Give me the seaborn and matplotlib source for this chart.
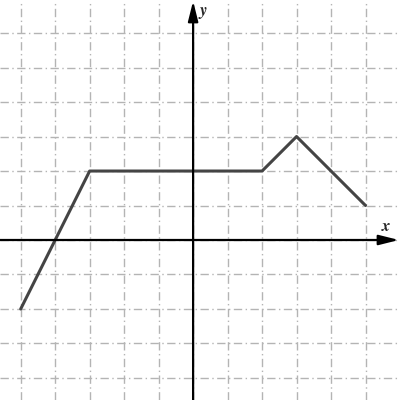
import pandas as pd
import seaborn as sns
import matplotlib.pyplot as plt

# piecewise line vertices
xs = [-5, -3, 2, 3, 5]
ys = [-2, 2, 2, 3, 1]
df = pd.DataFrame({'x': xs, 'y': ys})

sns.set_style('white')
plt.rcParams['mathtext.fontset'] = 'cm'

fig = plt.figure(figsize=(4, 4), dpi=100)
ax = fig.add_axes([0, 0, 1, 1])
ax.set_xlim(-5.6, 6.0)
ax.set_ylim(-4.64, 6.96)

# dash-dot grid on integer positions
ax.set_xticks(range(-5, 6))
ax.set_yticks(range(-4, 7))
ax.grid(True, linestyle=(0, (6, 2.5, 1, 2.5)), color='#b4b4b4', linewidth=1)
ax.tick_params(left=False, bottom=False, labelleft=False, labelbottom=False)
for s in ax.spines.values():
    s.set_visible(False)

# axes with arrows
arrow = dict(arrowstyle='-|>,head_length=0.6,head_width=0.15', color='black',
             lw=1.6, mutation_scale=20, shrinkA=0, shrinkB=0)
ax.annotate('', xy=(5.97, 0), xytext=(-5.6, 0), arrowprops=arrow)
ax.annotate('', xy=(0, 6.93), xytext=(0, -4.64), arrowprops=arrow)

sns.lineplot(data=df, x='x', y='y', sort=False, color='#444444', linewidth=2.2, ax=ax)
ax.set_xlabel('')
ax.set_ylabel('')

ax.text(0.3, 6.6, r'$\boldsymbol{y}$', fontsize=12, ha='center', va='center')
ax.text(5.6, 0.42, r'$\boldsymbol{x}$', fontsize=12, ha='center', va='center')

plt.savefig('out.png', dpi=100)
